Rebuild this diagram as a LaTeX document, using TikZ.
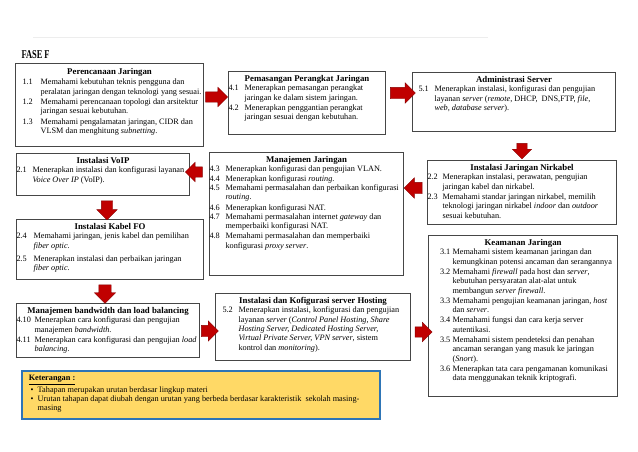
\documentclass[tikz,border=0pt]{standalone}
\usepackage{fontspec}
\setmainfont{Liberation Serif}
\usepackage{tikz}
\usetikzlibrary{shapes.arrows}
\definecolor{merah}{RGB}{192,0,0}
\definecolor{garis}{RGB}{70,70,70}
\definecolor{kuning}{RGB}{255,217,102}
\definecolor{biru}{RGB}{46,117,182}
\newlength\geser
\newlength\lebar
\newcommand{\isi}[5]{\begin{minipage}[c][#2][t]{#1}\setlength\geser{#3}\setlength\lebar{#4}\vspace*{3.5pt}#5\end{minipage}}
\newcommand{\judul}[1]{{\centering\fontsize{8.8}{9.3}\selectfont\bfseries#1\strut\par}}
\newcommand{\butir}[2]{\par\noindent\hspace*{\geser}\makebox[\lebar][l]{#1}\begin{tabular}[t]{@{}l@{}}#2\end{tabular}\par}

\begin{document}
\begin{tikzpicture}[x=1pt,y=1pt]
		\tikzstyle{kotak}=[draw=garis,line width=1.1pt,anchor=north west,inner sep=0pt,
			font=\fontsize{8.25}{9.3}\selectfont];
		\tikzstyle{catatan}=[kotak,draw=biru,fill=kuning,line width=1.5pt];
		\tikzstyle{panah}=[single arrow,fill=merah,draw=merah!70!black,line width=.4pt,
			inner sep=5.5pt,single arrow head extend=4.5pt];
		\useasboundingbox(0,0)rectangle(638,-451);
		\draw[black!7,line width=1pt](33,-37)--(488,-37);

		\node[anchor=base west,font=\fontsize{12}{14}\selectfont\bfseries](fase)at(18,-58){\scalebox{.7}[1]{FASE F}};

		\node[kotak](rencana)at(15,-63){\isi{188pt}{83pt}{7pt}{18pt}{%
			\vspace*{1pt}
			\judul{Perencanaan Jaringan}
			\vspace{1pt}
			\butir{1.1}{Memahami kebutuhan teknis pengguna dan\\peralatan jaringan dengan teknologi yang sesuai.}
			\butir{1.2}{Memahami perencanaan topologi dan arsitektur\\jaringan sesuai kebutuhan.}
			\butir{1.3}{Memahami pengalamatan jaringan, CIDR dan\\VLSM dan menghitung \textit{subnetting}.}}};
		\node[kotak](pasang)at(228,-71){\isi{157pt}{63pt}{0pt}{16pt}{%
			\judul{Pemasangan Perangkat Jaringan}
			\butir{4.1}{Menerapkan pemasangan perangkat\\jaringan ke dalam sistem jaringan.}
			\butir{4.2}{Menerapkan penggantian perangkat\\jaringan sesuai dengan kebutuhan.}}};
		\node[kotak](admin)at(412,-72){\isi{203pt}{59pt}{6pt}{16pt}{%
			\judul{Administrasi Server}
			\butir{5.1}{Menerapkan instalasi, konfigurasi dan pengujian\\layanan \textit{server} (\textit{remote}, DHCP,\ \ DNS,FTP, \textit{file},\\\textit{web, database server}).}}};
		\node[kotak](voip)at(16,-153){\isi{173pt}{42pt}{0pt}{16pt}{%
			\judul{Instalasi VoIP}
			\butir{2.1}{Menerapkan instalasi dan konfigurasi layanan\\\textit{Voice Over IP} (VoIP).}}};
		\node[kotak](kabelfo)at(16,-219){\isi{187pt}{60pt}{0pt}{17pt}{%
			\judul{Instalasi Kabel FO}
			\butir{2.4}{Memahami jaringan, jenis kabel dan pemilihan\\\textit{fiber optic}.}
			\vspace{3pt}
			\butir{2.5}{Menerapkan instalasi dan perbaikan jaringan\\\textit{fiber optic}.}}};
		\node[kotak](manajemen)at(209,-152){\isi{194pt}{123pt}{0pt}{16pt}{%
			\judul{Manajemen Jaringan}
			\butir{4.3}{Menerapkan konfigurasi dan pengujian VLAN.}
			\butir{4.4}{Menerapkan konfigurasi \textit{routing}.}
			\butir{4.5}{Memahami permasalahan dan perbaikan konfigurasi\\\textit{routing}.}
			\butir{4.6}{Menerapkan konfigurasi NAT.}
			\butir{4.7}{Memahami permasalahan internet \textit{gateway} dan\\memperbaiki konfigurasi NAT.}
			\butir{4.8}{Memahami permasalahan dan memperbaiki\\konfigurasi \textit{proxy server}.}}};
		\node[kotak](nirkabel)at(427,-160){\isi{189pt}{64pt}{0pt}{15pt}{%
			\judul{Instalasi Jaringan Nirkabel}
			\butir{2.2}{Menerapkan instalasi, perawatan, pengujian\\jaringan kabel dan nirkabel.}
			\butir{2.3}{Memahami standar jaringan nirkabel, memilih\\teknologi jaringan nirkabel \textit{indoor} dan \textit{outdoor}\\sesuai kebutuhan.}}};
		\node[kotak](keamanan)at(428,-235){\isi{189pt}{161pt}{11.5pt}{12.5pt}{%
			\judul{Keamanan Jaringan}
			\butir{3.1}{Memahami sistem keamanan jaringan dan\\kemungkinan potensi ancaman dan serangannya}
			\butir{3.2}{Memahami \textit{firewall} pada host dan \textit{server},\\kebutuhan persyaratan alat-alat untuk\\membangun \textit{server firewall}.}
			\butir{3.3}{Memahami pengujian keamanan jaringan, \textit{host}\\dan \textit{server}.}
			\butir{3.4}{Memahami fungsi dan cara kerja server\\autentikasi.}
			\butir{3.5}{Memahami sistem pendeteksi dan penahan\\ancaman serangan yang masuk ke jaringan\\(\textit{Snort}).}
			\butir{3.6}{Menerapkan tata cara pengamanan komunikasi\\data menggunakan teknik kriptografi.}}};
		\node[kotak](bandwidth)at(16,-303){\isi{183pt}{54pt}{0pt}{18pt}{%
			\judul{Manajemen bandwidth dan load balancing}
			\butir{4.10}{Menerapkan cara konfigurasi dan pengujian\\manajemen \textit{bandwidth}.}
			\butir{4.11}{Menerapkan cara konfigurasi dan pengujian \textit{load}\\\textit{balancing}.}}};
		\node[kotak](hosting)at(215,-293){\isi{195pt}{67pt}{7pt}{16pt}{%
			\judul{Instalasi dan Kofigurasi server Hosting}
			\butir{5.2}{Menerapkan instalasi, konfigurasi dan pengujian\\layanan \textit{server} (\textit{Control Panel Hosting, Share}\\\textit{Hosting Server, Dedicated Hosting Server,}\\\textit{Virtual Private Server, VPN server}, sistem\\kontrol dan \textit{monitoring}).}}};
		\node[catatan](keterangan)at(21,-370){\isi{358pt}{48pt}{9pt}{7pt}{%
			\hspace*{7pt}\underline{\textbf{Keterangan :}}\strut\par
			\butir{\textbullet}{Tahapan merupakan urutan berdasar lingkup materi}
			\butir{\textbullet}{Urutan tahapan dapat diubah dengan urutan yang berbeda berdasar karakteristik\ \ sekolah masing-\\masing}}};

		\node[panah,minimum height=22pt,inner sep=5pt](pA)at(214,-97){};
		\node[panah,minimum height=25pt](pB)at(400,-93){};
		\node[panah,minimum height=14pt,inner sep=5pt](pC)at(522,-148.5)[shape border rotate=270]{};
		\node[panah,minimum height=18pt](pD)at(416,-188)[shape border rotate=180]{};
		\node[panah,minimum height=17pt,inner sep=5pt](pE)at(196.5,-172)[shape border rotate=180]{};
		\node[panah,minimum height=19pt](pF)at(107,-207.5)[shape border rotate=270]{};
		\node[panah,minimum height=18pt,inner sep=6pt](pG)at(105,-291)[shape border rotate=270]{};
		\node[panah,minimum height=15pt](pH)at(207,-331){};
		\node[panah,minimum height=17pt,inner sep=5pt](pI)at(421,-332){};
	\end{tikzpicture}
\end{document}
